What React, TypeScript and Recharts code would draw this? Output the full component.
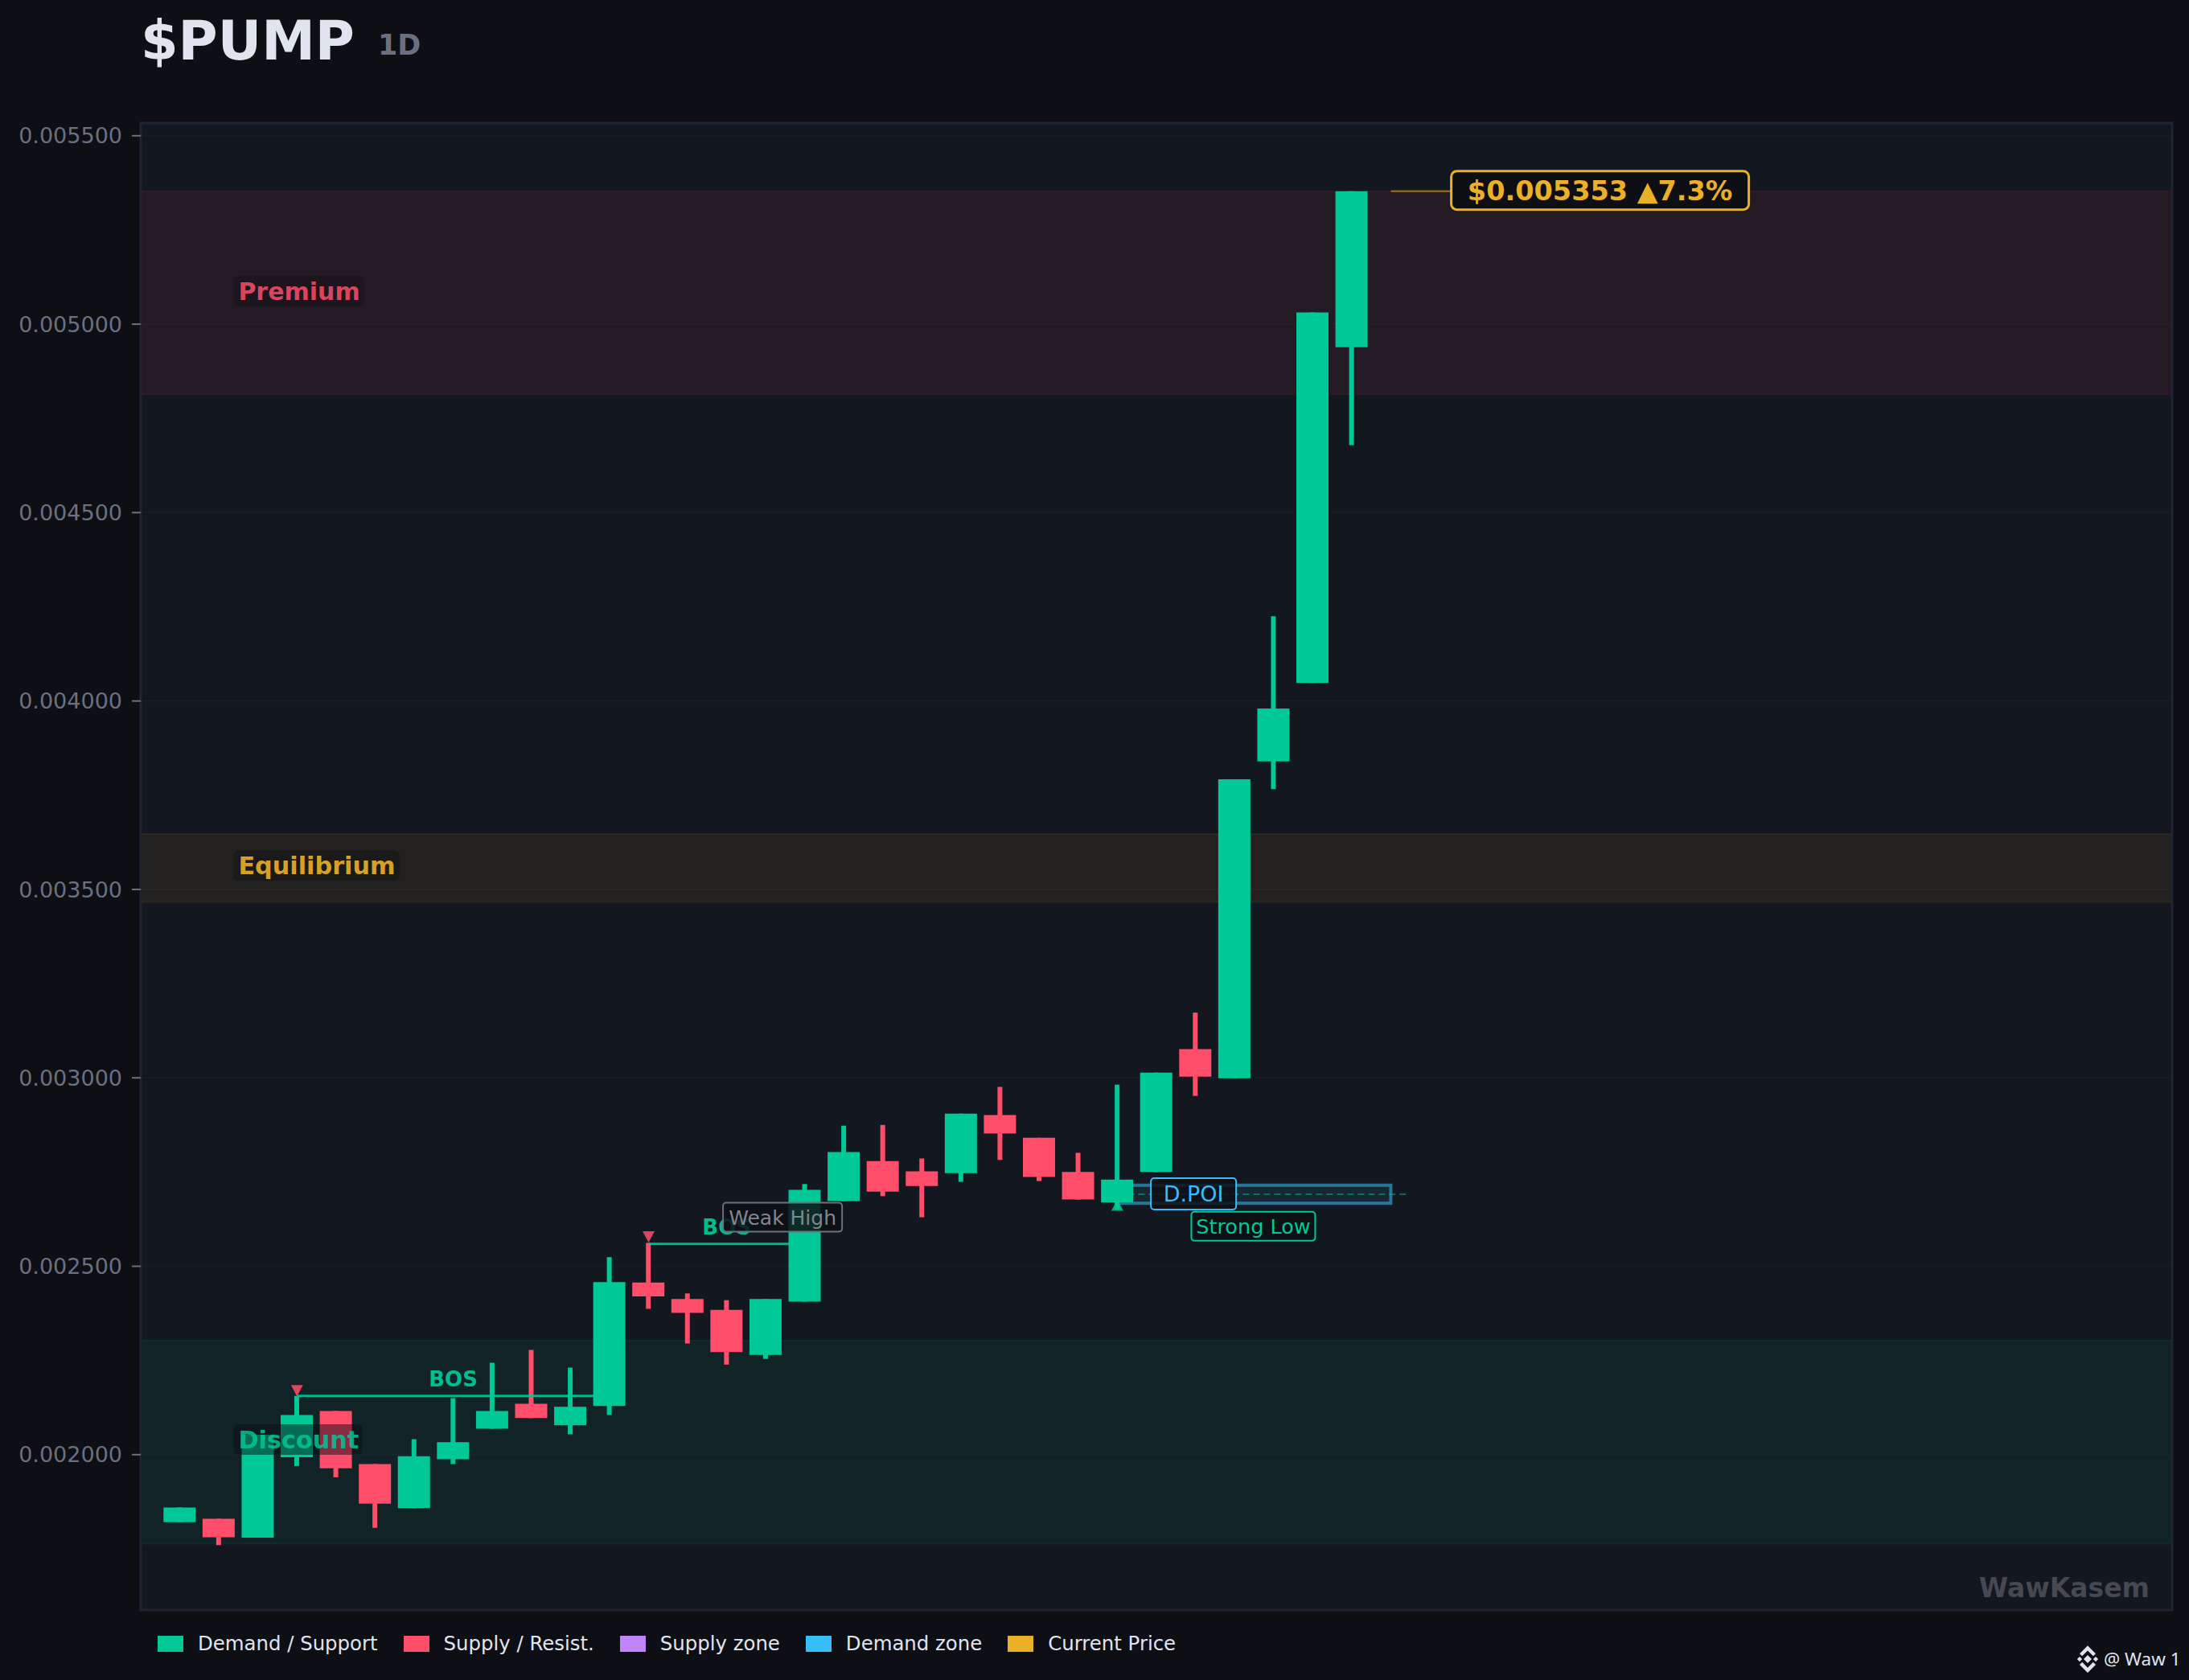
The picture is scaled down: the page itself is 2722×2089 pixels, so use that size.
import React from 'react';
import { ComposedChart, Bar, Cell, XAxis, YAxis, CartesianGrid, ReferenceArea, ReferenceLine, ReferenceDot, Legend } from 'recharts';

const FONT = '"DejaVu Sans", sans-serif';
const GREEN = '#00c896';
const RED = '#ff4d6a';
const BLUE = '#38bdf8';
const AMBER = '#eab027';
const PURPLE = '#c084fc';

const opens = [0.001821, 0.00183, 0.00178, 0.001993, 0.002116, 0.001975, 0.001858, 0.001988, 0.002069, 0.002135, 0.002078, 0.002129, 0.002457, 0.002413, 0.002384, 0.002265, 0.002406, 0.002673, 0.002779, 0.002752, 0.002747, 0.002901, 0.002841, 0.00275, 0.002669, 0.00275, 0.003076, 0.002999, 0.00384, 0.004048, 0.004939];
const closes = [0.00186, 0.001781, 0.002053, 0.002105, 0.001964, 0.00187, 0.001996, 0.002033, 0.002116, 0.002097, 0.002127, 0.002458, 0.00242, 0.002376, 0.002272, 0.002413, 0.002703, 0.002803, 0.002698, 0.002713, 0.002905, 0.002852, 0.002737, 0.002677, 0.00273, 0.003014, 0.003003, 0.003792, 0.00398, 0.005031, 0.005353];
const highs = [0.00186, 0.00183, 0.002053, 0.002156, 0.002116, 0.001975, 0.002041, 0.00215, 0.002244, 0.002278, 0.002231, 0.002524, 0.002562, 0.002428, 0.00241, 0.002413, 0.002718, 0.002873, 0.002875, 0.002786, 0.002905, 0.002976, 0.002841, 0.002801, 0.002982, 0.003014, 0.003173, 0.003792, 0.004225, 0.005031, 0.005353];
const lows = [0.001821, 0.00176, 0.00178, 0.00197, 0.00194, 0.001806, 0.001858, 0.001975, 0.002069, 0.002097, 0.002054, 0.002105, 0.002387, 0.002295, 0.002239, 0.002254, 0.002406, 0.002673, 0.002686, 0.00263, 0.002724, 0.002782, 0.002726, 0.002677, 0.002651, 0.00275, 0.002952, 0.002999, 0.003766, 0.004048, 0.004679];

const yTicks = [0.002, 0.0025, 0.003, 0.0035, 0.004, 0.0045, 0.005, 0.0055];
const legendNames = ['Demand / Support', 'Supply / Resist.', 'Supply zone', 'Demand zone', 'Current Price'];
const legendColors = [GREEN, RED, PURPLE, BLUE, AMBER];

const premiumZone = [0.004814, 0.005353];
const equilibriumZone = [0.003467, 0.003647];
const discountZone = [0.001764, 0.002303];
const poiZone = [0.002667, 0.002715];
const poiMid = 0.002691;
const lastPrice = 0.005353;
const bos1 = 0.002156;
const bos2 = 0.002559;

const data = opens.map((o, i) => ({
  i, open: o, close: closes[i], high: highs[i], low: lows[i],
  body: [Math.min(o, closes[i]), Math.max(o, closes[i])],
  wick: [lows[i], highs[i]],
}));

const xDomain = [-1, 51];
const yDomain = [0.0015877, 0.0055337];

const Tag = (p: any) => {
  const { cx, cy, text, w, h, color, fontSize, weight = 400, bg, bgOpacity = 0.85, border, bw = 2, rx = 4, textOpacity = 1, anchorStart } = p;
  return (
    <g>
      <rect x={cx - w / 2} y={cy - h / 2} width={w} height={h} rx={rx} fill={bg} fillOpacity={bgOpacity} stroke={border || 'none'} strokeWidth={bw} />
      <text x={anchorStart ? cx - w / 2 + 6 : cx} y={cy + fontSize * 0.36} textAnchor={anchorStart ? 'start' : 'middle'} fontFamily={FONT} fontSize={fontSize} fontWeight={weight} fill={color} fillOpacity={textOpacity}>{text}</text>
    </g>
  );
};

const Tri = (p: any) => {
  const { cx, cy, up, color } = p;
  const pts = up ? `${cx},${cy - 7} ${cx + 7.5},${cy + 7} ${cx - 7.5},${cy + 7}` : `${cx - 7.5},${cy - 7} ${cx + 7.5},${cy - 7} ${cx},${cy + 7}`;
  return <polygon points={pts} fill={color} fillOpacity={0.85} />;
};

const LegendRow = () => (
  <div style={{ display: 'flex', gap: 32, fontFamily: FONT, fontSize: 24.4, color: '#e0e4ef', whiteSpace: 'nowrap', lineHeight: '30px' }}>
    {legendNames.map((n, i) => (
      <div key={n} style={{ display: 'flex', alignItems: 'center', gap: 18 }}>
        <span style={{ display: 'block', width: 32, height: 20, background: legendColors[i] }} />
        <span>{n}</span>
      </div>
    ))}
  </div>
);

export default function App() {
  return (
    <div style={{ position: 'absolute', left: 0, top: 0, width: 2722, height: 2089, background: '#0d0f14', overflow: 'hidden' }}>
      <ComposedChart width={2722} height={2089} data={data} margin={{ left: 0, top: 153, right: 21, bottom: 57 }} barGap={0}>
        <text x={175} y={74} fontFamily={FONT} fontSize={67} fontWeight={700} fill="#e0e4ef">$PUMP</text>
        <text x={470} y={68} fontFamily={FONT} fontSize={35} fontWeight={700} fill="#6b7080">1D</text>
        <XAxis hide type="number" dataKey="i" domain={xDomain} allowDataOverflow />
        <XAxis hide type="number" dataKey="i" xAxisId="wick" domain={xDomain} allowDataOverflow />
        <YAxis type="number" domain={yDomain} allowDataOverflow ticks={yTicks} width={175} tickSize={11} tickMargin={12} axisLine={false}
          tickLine={{ stroke: '#6b7080', strokeWidth: 2 }} tick={{ fill: '#6b7080', fontSize: 27, fontFamily: FONT }} tickFormatter={(v: number) => v.toFixed(6)} />
        <CartesianGrid vertical={false} fill="#13171f" stroke="#ffffff" strokeOpacity={0.025} strokeWidth={2} />
        <ReferenceArea y1={premiumZone[0]} y2={premiumZone[1]} fill={RED} fillOpacity={0.07} stroke={RED} strokeOpacity={0.08} strokeWidth={2} />
        <ReferenceArea y1={equilibriumZone[0]} y2={equilibriumZone[1]} fill={AMBER} fillOpacity={0.07} stroke={AMBER} strokeOpacity={0.08} strokeWidth={2} />
        <ReferenceArea y1={discountZone[0]} y2={discountZone[1]} fill={GREEN} fillOpacity={0.07} stroke={GREEN} strokeOpacity={0.08} strokeWidth={2} />
        <ReferenceArea x1={xDomain[0]} x2={xDomain[1]} y1={yDomain[0]} y2={yDomain[1]} fill="none" stroke="#1e2433" strokeWidth={3} />
        <ReferenceArea x1={24} x2={31} y1={poiZone[0]} y2={poiZone[1]} fill={BLUE} fillOpacity={0.1} stroke={BLUE} strokeOpacity={0.55} strokeWidth={4} />
        <ReferenceLine segment={[{ x: 24, y: poiMid }, { x: 31.47, y: poiMid }]} stroke={GREEN} strokeOpacity={0.45} strokeWidth={2} strokeDasharray="8 5" />
        <ReferenceLine segment={[{ x: 31, y: lastPrice }, { x: 33, y: lastPrice }]} stroke={AMBER} strokeOpacity={0.5} strokeWidth={2.5} />
        <ReferenceLine segment={[{ x: 3, y: bos1 }, { x: 11, y: bos1 }]} stroke={GREEN} strokeOpacity={0.9} strokeWidth={3} />
        <ReferenceLine segment={[{ x: 12, y: bos2 }, { x: 16, y: bos2 }]} stroke={GREEN} strokeOpacity={0.9} strokeWidth={3} />
        <Bar xAxisId="wick" dataKey="wick" barSize={6} isAnimationActive={false}>
          {data.map((d) => <Cell key={d.i} fill={d.close >= d.open ? GREEN : RED} />)}
        </Bar>
        <Bar dataKey="body" barSize={40} isAnimationActive={false}>
          {data.map((d) => <Cell key={d.i} fill={d.close >= d.open ? GREEN : RED} />)}
        </Bar>
        <ReferenceDot x={3} y={0.00217} r={1} shape={(p: any) => <Tri cx={p.cx} cy={p.cy} color={RED} />} />
        <ReferenceDot x={12} y={0.002578} r={1} shape={(p: any) => <Tri cx={p.cx} cy={p.cy} color={RED} />} />
        <ReferenceDot x={24} y={0.002662} r={1} shape={(p: any) => <Tri cx={p.cx} cy={p.cy} up color={GREEN} />} />
        <ReferenceDot x={7} y={bos1 + 0.00004} r={1} shape={(p: any) => <text x={p.cx} y={p.cy + 7} textAnchor="middle" fontFamily={FONT} fontWeight={700} fontSize={26} fill={GREEN} fillOpacity={0.95}>BOS</text>} />
        <ReferenceDot x={14} y={bos2 + 0.00004} r={1} shape={(p: any) => <text x={p.cx} y={p.cy + 7} textAnchor="middle" fontFamily={FONT} fontWeight={700} fontSize={26} fill={GREEN} fillOpacity={0.95}>BOS</text>} />
        <ReferenceDot x={15.43} y={0.00263} r={1} shape={(p: any) => <Tag cx={p.cx} cy={p.cy} text="Weak High" w={148} h={36} fontSize={25} color="#80848f" bg="#0d0f14" border="#6b7080" />} />
        <ReferenceDot x={25.95} y={0.002692} r={1} shape={(p: any) => <Tag cx={p.cx} cy={p.cy} text="D.POI" w={106} h={39} fontSize={27} color={BLUE} bg="#0d0f14" border={BLUE} />} />
        <ReferenceDot x={27.48} y={0.002606} r={1} shape={(p: any) => <Tag cx={p.cx} cy={p.cy} text="Strong Low" w={154} h={36} fontSize={25.5} color={GREEN} bg="#0d0f14" border={GREEN} />} />
        <ReferenceDot x={1.54} y={(premiumZone[0] + premiumZone[1]) / 2} r={1} shape={(p: any) => <Tag cx={p.cx + 73} cy={p.cy - 2} text="Premium" w={162} h={38} fontSize={30} weight={700} color={RED} textOpacity={0.85} bg="#0d0f14" bgOpacity={0.35} anchorStart rx={6} />} />
        <ReferenceDot x={1.54} y={(equilibriumZone[0] + equilibriumZone[1]) / 2} r={1} shape={(p: any) => <Tag cx={p.cx + 95} cy={p.cy - 3} text="Equilibrium" w={206} h={38} fontSize={30.3} weight={700} color={AMBER} textOpacity={0.92} bg="#0d0f14" bgOpacity={0.35} anchorStart rx={6} />} />
        <ReferenceDot x={1.54} y={(discountZone[0] + discountZone[1]) / 2} r={1} shape={(p: any) => <Tag cx={p.cx + 72} cy={p.cy - 3} text="Discount" w={160} h={38} fontSize={30.3} weight={700} color={GREEN} textOpacity={0.85} bg="#0d0f14" bgOpacity={0.5} anchorStart rx={6} />} />
        <ReferenceDot x={36.5} y={lastPrice} r={1} shape={(p: any) => <Tag cx={p.cx - 7} cy={p.cy - 1} text="$0.005353 ▲7.3%" w={370} h={48} fontSize={33.5} weight={700} color={AMBER} bg="#0d0f14" bgOpacity={1} border={AMBER} bw={3} rx={7} />} />
        <text x={2673} y={1986} textAnchor="end" fontFamily={FONT} fontSize={33} fontWeight={700} fill="#ffffff" fillOpacity={0.22}>WawKasem</text>
        <g transform="translate(2596 2063) scale(1.25)" fill="#e0e4ef">
          <path d="M0 -4 L4 0 L0 4 L-4 0 Z" />
          <path d="M-10.5 0 L-8 -2.5 L-5.5 0 L-8 2.5 Z" />
          <path d="M10.5 0 L8 -2.5 L5.5 0 L8 2.5 Z" />
          <path d="M0 -13.5 L8 -5.5 L5.5 -3 L0 -8.5 L-5.5 -3 L-8 -5.5 Z" />
          <path d="M0 13.5 L8 5.5 L5.5 3 L0 8.5 L-5.5 3 L-8 5.5 Z" />
        </g>
        <text x={2616} y={2071} fontFamily='"Noto Sans", sans-serif' fontSize={22.5} fill="#e0e4ef">@ Waw 1</text>
        <Legend content={() => <LegendRow />} wrapperStyle={{ position: 'absolute', left: 196, top: 2029, width: 1300, height: 30, bottom: 'auto' }} />
      </ComposedChart>
    </div>
  );
}
